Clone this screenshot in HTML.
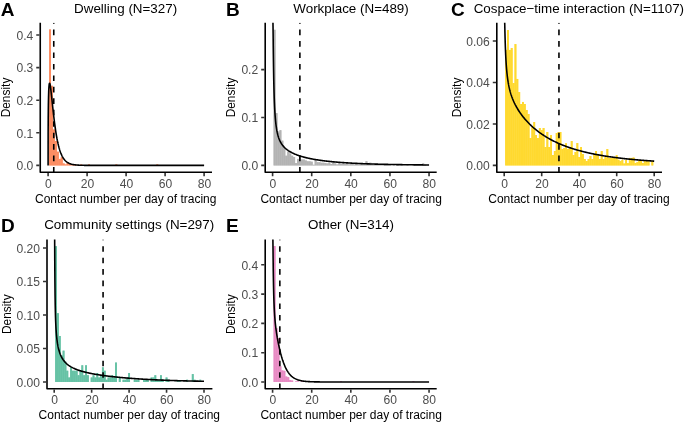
<!DOCTYPE html>
<html lang="en"><head><meta charset="utf-8"><title>Contact number per day of tracing</title>
<style>html,body{margin:0;padding:0;background:#fff}svg{display:block}</style></head>
<body>
<svg width="685" height="423" viewBox="0 0 685 423" font-family='"Liberation Sans", Arial, Helvetica, sans-serif'>
<rect width="685" height="423" fill="#fff"/>
<g id="panelA">
<clipPath id="cA"><rect x="40.25" y="22.8" width="171.75" height="149.79999999999998"/></clipPath>
<g clip-path="url(#cA)">
<path d="M49.08 165.4V29.46h1.95V165.4zM51.02 165.4V85.86h1.95V165.4zM52.98 165.4V129.54h1.95V165.4zM54.93 165.4V140.95h1.95V165.4zM56.88 165.4V151.71h1.95V165.4zM58.83 165.4V158.88h1.95V165.4zM60.77 165.4V157.25h1.95V165.4zM62.73 165.4V163.44h1.95V165.4zM64.67 165.4V164.42h1.95V165.4zM66.62 165.4V162.47h1.95V165.4zM68.58 165.4V163.44h1.95V165.4zM70.53 165.4V164.42h1.95V165.4zM72.47 165.4V164.42h1.95V165.4zM74.42 165.4V164.42h1.95V165.4zM80.28 165.4V164.42h1.95V165.4zM88.08 165.4V164.42h1.95V165.4zM115.38 165.4V164.42h1.95V165.4zM156.32 165.4V164.42h1.95V165.4z" fill="#FC8D62" fill-opacity="0.75"/>
<g fill="#FC8D62">
<rect x="49.08" y="29.46" width="1.95" height="135.94"/>
<rect x="51.02" y="85.86" width="1.95" height="79.54"/>
<rect x="52.98" y="129.54" width="1.95" height="35.86"/>
<rect x="54.93" y="140.95" width="1.95" height="24.45"/>
<rect x="56.88" y="151.71" width="1.95" height="13.69"/>
<rect x="58.83" y="158.88" width="1.95" height="6.52"/>
<rect x="60.77" y="157.25" width="1.95" height="8.15"/>
<rect x="62.73" y="163.44" width="1.95" height="1.96"/>
<rect x="64.67" y="164.42" width="1.95" height="0.98"/>
<rect x="66.62" y="162.47" width="1.95" height="2.93"/>
<rect x="68.58" y="163.44" width="1.95" height="1.96"/>
<rect x="70.53" y="164.42" width="1.95" height="0.98"/>
<rect x="72.47" y="164.42" width="1.95" height="0.98"/>
<rect x="74.42" y="164.42" width="1.95" height="0.98"/>
<rect x="80.28" y="164.42" width="1.95" height="0.98"/>
<rect x="88.08" y="164.42" width="1.95" height="0.98"/>
<rect x="115.38" y="164.42" width="1.95" height="0.98"/>
<rect x="156.32" y="164.42" width="1.95" height="0.98"/>
</g>
<path d="M48.1 165.4 L48.14 133.09 L48.22 118.8 L48.3 110.7 L48.37 104.98 L48.45 100.63 L48.53 97.18 L48.61 94.4 L48.69 92.11 L48.76 90.22 L48.84 88.66 L48.92 87.38 L49 86.32 L49.08 85.46 L49.15 84.78 L49.23 84.24 L49.31 83.84 L49.39 83.56 L49.47 83.38 L49.54 83.29 L49.62 83.29 L49.7 83.36 L49.78 83.51 L49.86 83.71 L49.93 83.97 L50.01 84.28 L50.09 84.63 L50.17 85.03 L50.25 85.47 L50.32 85.94 L50.4 86.44 L50.48 86.97 L50.56 87.52 L50.63 88.1 L50.71 88.7 L50.79 89.32 L50.87 89.96 L50.95 90.61 L51.02 91.28 L51.1 91.95 L51.18 92.64 L51.26 93.34 L51.34 94.05 L51.41 94.76 L51.49 95.48 L51.57 96.21 L51.65 96.94 L51.73 97.68 L51.8 98.41 L51.88 99.15 L51.96 99.9 L52.04 100.64 L52.12 101.38 L52.2 102.12 L52.27 102.87 L52.35 103.61 L52.43 104.35 L52.51 105.08 L52.59 105.82 L52.66 106.55 L52.74 107.28 L52.82 108.01 L52.9 108.73 L52.98 109.45 L53.05 110.16 L53.13 110.87 L53.21 111.58 L53.29 112.28 L53.37 112.97 L53.44 113.66 L53.52 114.35 L53.6 115.03 L53.68 115.7 L53.76 116.37 L53.83 117.03 L53.91 117.69 L53.99 118.34 L54.07 118.98 L54.15 119.62 L54.22 120.25 L54.3 120.88 L54.38 121.5 L54.46 122.11 L54.53 122.72 L54.61 123.32 L54.69 123.92 L54.77 124.51 L54.85 125.09 L54.92 125.66 L55 126.23 L55.08 126.79 L55.16 127.35 L55.24 127.9 L55.31 128.44 L55.39 128.98 L55.47 129.51 L55.55 130.04 L55.63 130.55 L55.7 131.06 L55.78 131.57 L55.86 132.07 L55.94 132.56 L56.02 133.05 L56.09 133.53 L56.17 134 L56.25 134.47 L56.33 134.94 L56.41 135.39 L56.48 135.84 L56.56 136.29 L56.64 136.73 L56.72 137.16 L56.8 137.59 L56.88 138.01 L56.95 138.42 L57.03 138.83 L57.11 139.24 L57.19 139.64 L57.27 140.03 L57.34 140.42 L57.42 140.8 L57.5 141.18 L57.58 141.55 L57.66 141.92 L57.73 142.28 L57.81 142.64 L57.89 142.99 L57.97 143.34 L58.05 143.68 L58.12 144.02 L58.2 144.35 L58.28 144.68 L58.36 145.01 L58.44 145.32 L58.51 145.64 L58.59 145.95 L58.67 146.25 L58.75 146.55 L58.83 146.85 L58.9 147.14 L58.98 147.43 L59.06 147.71 L59.14 147.99 L59.21 148.27 L59.29 148.54 L59.37 148.81 L59.45 149.07 L59.53 149.33 L59.6 149.58 L59.68 149.84 L59.76 150.08 L59.8 150.21 L60.29 151.66 L60.77 152.98 L61.26 154.19 L61.75 155.28 L62.24 156.26 L62.73 157.16 L63.21 157.97 L63.7 158.7 L64.19 159.37 L64.67 159.97 L65.16 160.51 L65.65 160.99 L66.14 161.44 L66.62 161.83 L67.11 162.19 L67.6 162.51 L68.09 162.81 L68.58 163.07 L69.06 163.3 L69.55 163.52 L70.04 163.71 L70.53 163.88 L71.01 164.03 L71.5 164.17 L71.99 164.3 L72.47 164.41 L72.96 164.51 L73.45 164.6 L73.94 164.69 L74.42 164.76 L74.91 164.83 L75.4 164.88 L75.89 164.94 L76.38 164.99 L76.86 165.03 L77.35 165.07 L77.84 165.1 L78.33 165.13 L78.81 165.16 L79.3 165.18 L79.79 165.21 L80.28 165.23 L80.76 165.25 L81.25 165.26 L81.74 165.28 L82.22 165.29 L82.71 165.3 L83.2 165.31 L83.69 165.32 L84.17 165.33 L84.66 165.34 L85.15 165.34 L85.64 165.35 L86.12 165.35 L86.61 165.36 L87.1 165.36 L87.59 165.37 L88.08 165.37 L88.56 165.37 L89.05 165.38 L89.54 165.38 L90.03 165.38 L90.51 165.38 L91 165.38 L91.49 165.39 L91.97 165.39 L92.46 165.39 L92.95 165.39 L93.44 165.39 L93.92 165.39 L94.41 165.39 L94.9 165.39 L95.39 165.39 L95.88 165.39 L96.36 165.4 L96.85 165.4 L97.34 165.4 L97.83 165.4 L98.31 165.4 L98.8 165.4 L99.29 165.4 L99.78 165.4 L100.26 165.4 L100.75 165.4 L101.24 165.4 L101.72 165.4 L102.21 165.4 L102.7 165.4 L103.19 165.4 L103.67 165.4 L104.16 165.4 L104.65 165.4 L105.14 165.4 L105.62 165.4 L106.11 165.4 L106.6 165.4 L107.09 165.4 L107.58 165.4 L108.06 165.4 L108.55 165.4 L109.04 165.4 L109.53 165.4 L110.01 165.4 L110.5 165.4 L110.99 165.4 L111.47 165.4 L111.96 165.4 L112.45 165.4 L112.94 165.4 L113.43 165.4 L113.91 165.4 L114.4 165.4 L114.89 165.4 L115.38 165.4 L115.86 165.4 L116.35 165.4 L116.84 165.4 L117.32 165.4 L117.81 165.4 L118.3 165.4 L118.79 165.4 L119.28 165.4 L119.76 165.4 L120.25 165.4 L120.74 165.4 L121.22 165.4 L121.71 165.4 L122.2 165.4 L122.69 165.4 L123.18 165.4 L123.66 165.4 L124.15 165.4 L124.64 165.4 L125.12 165.4 L125.61 165.4 L126.1 165.4 L126.59 165.4 L127.07 165.4 L127.56 165.4 L128.05 165.4 L128.54 165.4 L129.03 165.4 L129.51 165.4 L130 165.4 L130.49 165.4 L130.97 165.4 L131.46 165.4 L131.95 165.4 L132.44 165.4 L132.93 165.4 L133.41 165.4 L133.9 165.4 L134.39 165.4 L134.88 165.4 L135.36 165.4 L135.85 165.4 L136.34 165.4 L136.82 165.4 L137.31 165.4 L137.8 165.4 L138.29 165.4 L138.78 165.4 L139.26 165.4 L139.75 165.4 L140.24 165.4 L140.72 165.4 L141.21 165.4 L141.7 165.4 L142.19 165.4 L142.68 165.4 L143.16 165.4 L143.65 165.4 L144.14 165.4 L144.62 165.4 L145.11 165.4 L145.6 165.4 L146.09 165.4 L146.57 165.4 L147.06 165.4 L147.55 165.4 L148.04 165.4 L148.53 165.4 L149.01 165.4 L149.5 165.4 L149.99 165.4 L150.47 165.4 L150.96 165.4 L151.45 165.4 L151.94 165.4 L152.43 165.4 L152.91 165.4 L153.4 165.4 L153.89 165.4 L154.38 165.4 L154.86 165.4 L155.35 165.4 L155.84 165.4 L156.32 165.4 L156.81 165.4 L157.3 165.4 L157.79 165.4 L158.28 165.4 L158.76 165.4 L159.25 165.4 L159.74 165.4 L160.22 165.4 L160.71 165.4 L161.2 165.4 L161.69 165.4 L162.18 165.4 L162.66 165.4 L163.15 165.4 L163.64 165.4 L164.12 165.4 L164.61 165.4 L165.1 165.4 L165.59 165.4 L166.07 165.4 L166.56 165.4 L167.05 165.4 L167.54 165.4 L168.03 165.4 L168.51 165.4 L169 165.4 L169.49 165.4 L169.97 165.4 L170.46 165.4 L170.95 165.4 L171.44 165.4 L171.93 165.4 L172.41 165.4 L172.9 165.4 L173.39 165.4 L173.88 165.4 L174.36 165.4 L174.85 165.4 L175.34 165.4 L175.82 165.4 L176.31 165.4 L176.8 165.4 L177.29 165.4 L177.77 165.4 L178.26 165.4 L178.75 165.4 L179.24 165.4 L179.72 165.4 L180.21 165.4 L180.7 165.4 L181.19 165.4 L181.67 165.4 L182.16 165.4 L182.65 165.4 L183.14 165.4 L183.62 165.4 L184.11 165.4 L184.6 165.4 L185.09 165.4 L185.57 165.4 L186.06 165.4 L186.55 165.4 L187.04 165.4 L187.52 165.4 L188.01 165.4 L188.5 165.4 L188.99 165.4 L189.47 165.4 L189.96 165.4 L190.45 165.4 L190.94 165.4 L191.42 165.4 L191.91 165.4 L192.4 165.4 L192.89 165.4 L193.38 165.4 L193.86 165.4 L194.35 165.4 L194.84 165.4 L195.32 165.4 L195.81 165.4 L196.3 165.4 L196.79 165.4 L197.27 165.4 L197.76 165.4 L198.25 165.4 L198.74 165.4 L199.22 165.4 L199.71 165.4 L200.2 165.4 L200.69 165.4 L201.17 165.4 L201.66 165.4 L202.15 165.4 L202.64 165.4 L203.12 165.4 L203.61 165.4 L204.1 165.4" fill="none" stroke="#000" stroke-width="1.6" stroke-linejoin="round"/>
<line x1="53.76" y1="172.6" x2="53.76" y2="22.8" stroke="#000" stroke-width="1.6" stroke-dasharray="5.6 5.85"/>
</g>
<path d="M40.25 22.8V172.2H212.0" fill="none" stroke="#000" stroke-width="1.6" stroke-linejoin="round"/>
<path d="M39.55 165.4h-3.3M39.55 132.8h-3.3M39.55 100.2h-3.3M39.55 67.6h-3.3M39.55 35h-3.3M48.1 172.9v3.3M87.1 172.9v3.3M126.1 172.9v3.3M165.1 172.9v3.3M204.1 172.9v3.3" stroke="#333" stroke-width="1.6" fill="none"/>
<g font-size="12.1" fill="#4D4D4D">
<text x="33.25" y="170.1" text-anchor="end">0.0</text>
<text x="33.25" y="137.5" text-anchor="end">0.1</text>
<text x="33.25" y="104.9" text-anchor="end">0.2</text>
<text x="33.25" y="72.3" text-anchor="end">0.3</text>
<text x="33.25" y="39.7" text-anchor="end">0.4</text>
<text x="48.4" y="187.5" text-anchor="middle">0</text>
<text x="87.4" y="187.5" text-anchor="middle">20</text>
<text x="126.4" y="187.5" text-anchor="middle">40</text>
<text x="165.4" y="187.5" text-anchor="middle">60</text>
<text x="204.4" y="187.5" text-anchor="middle">80</text>
</g>
<text x="125.72" y="203" font-size="12" text-anchor="middle" fill="#000">Contact number per day of tracing</text>
<text transform="translate(9.5 97.5) rotate(-90)" font-size="11.9" text-anchor="middle" fill="#000">Density</text>
<text x="125.62" y="12.7" font-size="13.4" text-anchor="middle" fill="#000">Dwelling (N=327)</text>
<text x="0.75" y="15.6" font-size="19" font-weight="bold" fill="#000">A</text>
</g>
<g id="panelB">
<clipPath id="cB"><rect x="265.2" y="22.8" width="171.5" height="149.79999999999998"/></clipPath>
<g clip-path="url(#cB)">
<path d="M273.58 165.4V29.84h1.96V165.4zM275.53 165.4V113.14h1.96V165.4zM277.49 165.4V131.53h1.96V165.4zM279.44 165.4V130.13h1.96V165.4zM281.4 165.4V140.64h1.96V165.4zM283.36 165.4V147.3h1.96V165.4zM285.31 165.4V155.71h1.96V165.4zM287.27 165.4V151.68h1.96V165.4zM289.22 165.4V153.43h1.96V165.4zM291.18 165.4V155.71h1.96V165.4zM293.13 165.4V156.94h1.96V165.4zM295.09 165.4V163.07h1.96V165.4zM297.05 165.4V158.89h1.96V165.4zM299 165.4V157.26h1.96V165.4zM300.96 165.4V159.57h1.96V165.4zM302.91 165.4V159.57h1.96V165.4zM304.87 165.4V160.44h1.96V165.4zM306.82 165.4V161.32h1.96V165.4zM308.78 165.4V161.32h1.96V165.4zM310.73 165.4V161.67h1.96V165.4zM312.69 165.4V164.82h1.96V165.4zM314.65 165.4V158.89h1.96V165.4zM316.6 165.4V162.19h1.96V165.4zM318.56 165.4V162.19h1.96V165.4zM320.51 165.4V162.72h1.96V165.4zM322.47 165.4V162.72h1.96V165.4zM324.42 165.4V163.07h1.96V165.4zM326.38 165.4V163.42h1.96V165.4zM328.33 165.4V162.72h1.96V165.4zM330.29 165.4V163.95h1.96V165.4zM332.25 165.4V162.19h1.96V165.4zM334.2 165.4V163.42h1.96V165.4zM336.16 165.4V164.47h1.96V165.4zM338.11 165.4V163.07h1.96V165.4zM340.07 165.4V163.95h1.96V165.4zM342.02 165.4V163.42h1.96V165.4zM343.98 165.4V164.12h1.96V165.4zM345.94 165.4V163.77h1.96V165.4zM347.89 165.4V164.47h1.96V165.4zM349.85 165.4V164.12h1.96V165.4zM351.8 165.4V163.77h1.96V165.4zM353.76 165.4V164.47h1.96V165.4zM355.71 165.4V164.3h1.96V165.4zM357.67 165.4V164.65h1.96V165.4zM359.62 165.4V164.12h1.96V165.4zM361.58 165.4V164.47h1.96V165.4zM363.54 165.4V164.3h1.96V165.4zM365.49 165.4V161.32h1.96V165.4zM367.45 165.4V164.47h1.96V165.4zM369.4 165.4V162.72h1.96V165.4zM371.36 165.4V164.47h1.96V165.4zM373.31 165.4V164.82h1.96V165.4zM375.27 165.4V164.47h1.96V165.4zM377.22 165.4V164.82h1.96V165.4zM379.18 165.4V164.65h1.96V165.4zM381.14 165.4V164.82h1.96V165.4zM383.09 165.4V164.47h1.96V165.4zM385.05 165.4V165h1.96V165.4zM387 165.4V164.82h1.96V165.4zM388.96 165.4V165h1.96V165.4zM392.87 165.4V164.82h1.96V165.4zM396.78 165.4V165h1.96V165.4zM400.69 165.4V164.82h1.96V165.4zM406.56 165.4V165h1.96V165.4zM412.43 165.4V164.82h1.96V165.4zM422.2 165.4V163.42h1.96V165.4zM424.16 165.4V164.82h1.96V165.4z" fill="#B3B3B3" fill-opacity="0.75"/>
<g fill="#B3B3B3">
<rect x="273.58" y="29.84" width="1.96" height="135.56"/>
<rect x="275.53" y="113.14" width="1.96" height="52.26"/>
<rect x="277.49" y="131.53" width="1.96" height="33.87"/>
<rect x="279.44" y="130.13" width="1.96" height="35.27"/>
<rect x="281.4" y="140.64" width="1.96" height="24.76"/>
<rect x="283.36" y="147.3" width="1.96" height="18.1"/>
<rect x="285.31" y="155.71" width="1.96" height="9.69"/>
<rect x="287.27" y="151.68" width="1.96" height="13.72"/>
<rect x="289.22" y="153.43" width="1.96" height="11.97"/>
<rect x="291.18" y="155.71" width="1.96" height="9.69"/>
<rect x="293.13" y="156.94" width="1.96" height="8.46"/>
<rect x="295.09" y="163.07" width="1.96" height="2.33"/>
<rect x="297.05" y="158.89" width="1.96" height="6.51"/>
<rect x="299" y="157.26" width="1.96" height="8.14"/>
<rect x="300.96" y="159.57" width="1.96" height="5.83"/>
<rect x="302.91" y="159.57" width="1.96" height="5.83"/>
<rect x="304.87" y="160.44" width="1.96" height="4.96"/>
<rect x="306.82" y="161.32" width="1.96" height="4.08"/>
<rect x="308.78" y="161.32" width="1.96" height="4.08"/>
<rect x="310.73" y="161.67" width="1.96" height="3.73"/>
<rect x="312.69" y="164.82" width="1.96" height="0.58"/>
<rect x="314.65" y="158.89" width="1.96" height="6.51"/>
<rect x="316.6" y="162.19" width="1.96" height="3.21"/>
<rect x="318.56" y="162.19" width="1.96" height="3.21"/>
<rect x="320.51" y="162.72" width="1.96" height="2.68"/>
<rect x="322.47" y="162.72" width="1.96" height="2.68"/>
<rect x="324.42" y="163.07" width="1.96" height="2.33"/>
<rect x="326.38" y="163.42" width="1.96" height="1.98"/>
<rect x="328.33" y="162.72" width="1.96" height="2.68"/>
<rect x="330.29" y="163.95" width="1.96" height="1.45"/>
<rect x="332.25" y="162.19" width="1.96" height="3.21"/>
<rect x="334.2" y="163.42" width="1.96" height="1.98"/>
<rect x="336.16" y="164.47" width="1.96" height="0.93"/>
<rect x="338.11" y="163.07" width="1.96" height="2.33"/>
<rect x="340.07" y="163.95" width="1.96" height="1.45"/>
<rect x="342.02" y="163.42" width="1.96" height="1.98"/>
<rect x="343.98" y="164.12" width="1.96" height="1.28"/>
<rect x="345.94" y="163.77" width="1.96" height="1.63"/>
<rect x="347.89" y="164.47" width="1.96" height="0.93"/>
<rect x="349.85" y="164.12" width="1.96" height="1.28"/>
<rect x="351.8" y="163.77" width="1.96" height="1.63"/>
<rect x="353.76" y="164.47" width="1.96" height="0.93"/>
<rect x="355.71" y="164.3" width="1.96" height="1.1"/>
<rect x="357.67" y="164.65" width="1.96" height="0.75"/>
<rect x="359.62" y="164.12" width="1.96" height="1.28"/>
<rect x="361.58" y="164.47" width="1.96" height="0.93"/>
<rect x="363.54" y="164.3" width="1.96" height="1.1"/>
<rect x="365.49" y="161.32" width="1.96" height="4.08"/>
<rect x="367.45" y="164.47" width="1.96" height="0.93"/>
<rect x="369.4" y="162.72" width="1.96" height="2.68"/>
<rect x="371.36" y="164.47" width="1.96" height="0.93"/>
<rect x="373.31" y="164.82" width="1.96" height="0.58"/>
<rect x="375.27" y="164.47" width="1.96" height="0.93"/>
<rect x="377.22" y="164.82" width="1.96" height="0.58"/>
<rect x="379.18" y="164.65" width="1.96" height="0.75"/>
<rect x="381.14" y="164.82" width="1.96" height="0.58"/>
<rect x="383.09" y="164.47" width="1.96" height="0.93"/>
<rect x="385.05" y="165" width="1.96" height="0.4"/>
<rect x="387" y="164.82" width="1.96" height="0.58"/>
<rect x="388.96" y="165" width="1.96" height="0.4"/>
<rect x="392.87" y="164.82" width="1.96" height="0.58"/>
<rect x="396.78" y="165" width="1.96" height="0.4"/>
<rect x="400.69" y="164.82" width="1.96" height="0.58"/>
<rect x="406.56" y="165" width="1.96" height="0.4"/>
<rect x="412.43" y="164.82" width="1.96" height="0.58"/>
<rect x="422.2" y="163.42" width="1.96" height="1.98"/>
<rect x="424.16" y="164.82" width="1.96" height="0.58"/>
</g>
<path d="M272.8 2.85 L272.87 18.46 L272.95 21.65 L273.03 26.48 L273.11 33.33 L273.19 40.61 L273.26 47.65 L273.34 54.22 L273.42 60.24 L273.5 65.7 L273.58 70.65 L273.66 75.13 L273.73 79.2 L273.81 82.9 L273.89 86.27 L273.97 89.35 L274.05 92.18 L274.13 94.77 L274.2 97.17 L274.28 99.38 L274.36 101.44 L274.44 103.35 L274.52 105.12 L274.59 106.78 L274.67 108.34 L274.75 109.79 L274.83 111.16 L274.91 112.45 L274.99 113.66 L275.06 114.81 L275.14 115.9 L275.22 116.93 L275.3 117.9 L275.38 118.83 L275.46 119.71 L275.53 120.55 L275.61 121.36 L275.69 122.12 L275.77 122.86 L275.85 123.56 L275.92 124.23 L276 124.87 L276.08 125.49 L276.16 126.09 L276.24 126.66 L276.32 127.21 L276.39 127.74 L276.47 128.25 L276.55 128.75 L276.63 129.22 L276.71 129.68 L276.78 130.13 L276.86 130.56 L276.94 130.98 L277.02 131.38 L277.1 131.77 L277.18 132.15 L277.25 132.52 L277.33 132.88 L277.41 133.22 L277.49 133.56 L277.57 133.89 L277.65 134.21 L277.72 134.52 L277.8 134.82 L277.88 135.12 L277.96 135.41 L278.04 135.69 L278.11 135.96 L278.19 136.23 L278.27 136.49 L278.35 136.74 L278.43 136.99 L278.51 137.24 L278.58 137.47 L278.66 137.71 L278.74 137.93 L278.82 138.16 L278.9 138.37 L278.98 138.59 L279.05 138.8 L279.13 139 L279.21 139.2 L279.29 139.4 L279.37 139.59 L279.44 139.78 L279.52 139.97 L279.6 140.15 L279.68 140.33 L279.76 140.5 L279.84 140.68 L279.91 140.84 L279.99 141.01 L280.07 141.17 L280.15 141.34 L280.23 141.49 L280.31 141.65 L280.38 141.8 L280.46 141.95 L280.54 142.1 L280.62 142.25 L280.7 142.39 L280.77 142.53 L280.85 142.67 L280.93 142.81 L281.01 142.94 L281.09 143.07 L281.17 143.2 L281.24 143.33 L281.32 143.46 L281.4 143.59 L281.48 143.71 L281.56 143.83 L281.63 143.95 L281.71 144.07 L281.79 144.19 L281.87 144.3 L281.95 144.42 L282.03 144.53 L282.1 144.64 L282.18 144.75 L282.26 144.86 L282.34 144.97 L282.42 145.07 L282.5 145.18 L282.57 145.28 L282.65 145.38 L282.73 145.48 L282.81 145.58 L282.89 145.68 L282.96 145.78 L283.04 145.87 L283.12 145.97 L283.2 146.06 L283.28 146.15 L283.36 146.24 L283.43 146.34 L283.51 146.43 L283.59 146.51 L283.67 146.6 L283.75 146.69 L283.83 146.78 L283.9 146.86 L283.98 146.94 L284.06 147.03 L284.14 147.11 L284.22 147.19 L284.29 147.27 L284.33 147.31 L284.82 147.8 L285.31 148.26 L285.8 148.69 L286.29 149.1 L286.78 149.49 L287.27 149.87 L287.76 150.22 L288.24 150.56 L288.73 150.89 L289.22 151.2 L289.71 151.5 L290.2 151.79 L290.69 152.07 L291.18 152.33 L291.67 152.59 L292.16 152.84 L292.64 153.08 L293.13 153.32 L293.62 153.54 L294.11 153.76 L294.6 153.98 L295.09 154.18 L295.58 154.38 L296.07 154.58 L296.56 154.77 L297.05 154.95 L297.53 155.13 L298.02 155.31 L298.51 155.48 L299 155.65 L299.49 155.81 L299.98 155.97 L300.47 156.12 L300.96 156.27 L301.45 156.42 L301.93 156.56 L302.42 156.71 L302.91 156.84 L303.4 156.98 L303.89 157.11 L304.38 157.24 L304.87 157.37 L305.36 157.49 L305.85 157.61 L306.33 157.73 L306.82 157.85 L307.31 157.96 L307.8 158.07 L308.29 158.18 L308.78 158.29 L309.27 158.39 L309.76 158.5 L310.25 158.6 L310.73 158.7 L311.22 158.79 L311.71 158.89 L312.2 158.98 L312.69 159.08 L313.18 159.17 L313.67 159.25 L314.16 159.34 L314.65 159.43 L315.13 159.51 L315.62 159.59 L316.11 159.68 L316.6 159.76 L317.09 159.83 L317.58 159.91 L318.07 159.99 L318.56 160.06 L319.05 160.13 L319.53 160.21 L320.02 160.28 L320.51 160.35 L321 160.41 L321.49 160.48 L321.98 160.55 L322.47 160.61 L322.96 160.68 L323.45 160.74 L323.93 160.8 L324.42 160.86 L324.91 160.92 L325.4 160.98 L325.89 161.04 L326.38 161.1 L326.87 161.15 L327.36 161.21 L327.85 161.26 L328.33 161.32 L328.82 161.37 L329.31 161.42 L329.8 161.47 L330.29 161.52 L330.78 161.57 L331.27 161.62 L331.76 161.67 L332.25 161.72 L332.73 161.77 L333.22 161.81 L333.71 161.86 L334.2 161.9 L334.69 161.95 L335.18 161.99 L335.67 162.03 L336.16 162.07 L336.65 162.12 L337.13 162.16 L337.62 162.2 L338.11 162.24 L338.6 162.28 L339.09 162.31 L339.58 162.35 L340.07 162.39 L340.56 162.43 L341.05 162.46 L341.53 162.5 L342.02 162.54 L342.51 162.57 L343 162.6 L343.49 162.64 L343.98 162.67 L344.47 162.71 L344.96 162.74 L345.45 162.77 L345.94 162.8 L346.42 162.83 L346.91 162.86 L347.4 162.89 L347.89 162.92 L348.38 162.95 L348.87 162.98 L349.36 163.01 L349.85 163.04 L350.34 163.07 L350.82 163.09 L351.31 163.12 L351.8 163.15 L352.29 163.18 L352.78 163.2 L353.27 163.23 L353.76 163.25 L354.25 163.28 L354.74 163.3 L355.22 163.33 L355.71 163.35 L356.2 163.37 L356.69 163.4 L357.18 163.42 L357.67 163.44 L358.16 163.47 L358.65 163.49 L359.14 163.51 L359.62 163.53 L360.11 163.55 L360.6 163.57 L361.09 163.6 L361.58 163.62 L362.07 163.64 L362.56 163.66 L363.05 163.68 L363.54 163.7 L364.02 163.71 L364.51 163.73 L365 163.75 L365.49 163.77 L365.98 163.79 L366.47 163.81 L366.96 163.83 L367.45 163.84 L367.94 163.86 L368.42 163.88 L368.91 163.89 L369.4 163.91 L369.89 163.93 L370.38 163.94 L370.87 163.96 L371.36 163.98 L371.85 163.99 L372.34 164.01 L372.82 164.02 L373.31 164.04 L373.8 164.05 L374.29 164.07 L374.78 164.08 L375.27 164.1 L375.76 164.11 L376.25 164.13 L376.74 164.14 L377.22 164.15 L377.71 164.17 L378.2 164.18 L378.69 164.19 L379.18 164.21 L379.67 164.22 L380.16 164.23 L380.65 164.24 L381.14 164.26 L381.62 164.27 L382.11 164.28 L382.6 164.29 L383.09 164.3 L383.58 164.32 L384.07 164.33 L384.56 164.34 L385.05 164.35 L385.54 164.36 L386.02 164.37 L386.51 164.38 L387 164.39 L387.49 164.41 L387.98 164.42 L388.47 164.43 L388.96 164.44 L389.45 164.45 L389.94 164.46 L390.42 164.47 L390.91 164.48 L391.4 164.49 L391.89 164.5 L392.38 164.51 L392.87 164.51 L393.36 164.52 L393.85 164.53 L394.34 164.54 L394.83 164.55 L395.31 164.56 L395.8 164.57 L396.29 164.58 L396.78 164.59 L397.27 164.59 L397.76 164.6 L398.25 164.61 L398.74 164.62 L399.23 164.63 L399.71 164.63 L400.2 164.64 L400.69 164.65 L401.18 164.66 L401.67 164.67 L402.16 164.67 L402.65 164.68 L403.14 164.69 L403.63 164.69 L404.11 164.7 L404.6 164.71 L405.09 164.72 L405.58 164.72 L406.07 164.73 L406.56 164.74 L407.05 164.74 L407.54 164.75 L408.03 164.76 L408.51 164.76 L409 164.77 L409.49 164.78 L409.98 164.78 L410.47 164.79 L410.96 164.79 L411.45 164.8 L411.94 164.81 L412.43 164.81 L412.91 164.82 L413.4 164.82 L413.89 164.83 L414.38 164.84 L414.87 164.84 L415.36 164.85 L415.85 164.85 L416.34 164.86 L416.83 164.86 L417.31 164.87 L417.8 164.87 L418.29 164.88 L418.78 164.88 L419.27 164.89 L419.76 164.89 L420.25 164.9 L420.74 164.9 L421.23 164.91 L421.71 164.91 L422.2 164.92 L422.69 164.92 L423.18 164.93 L423.67 164.93 L424.16 164.94 L424.65 164.94 L425.14 164.95 L425.63 164.95 L426.11 164.95 L426.6 164.96 L427.09 164.96 L427.58 164.97 L428.07 164.97 L428.56 164.98 L429.05 164.98" fill="none" stroke="#000" stroke-width="1.6" stroke-linejoin="round"/>
<line x1="299.88" y1="172.6" x2="299.88" y2="22.8" stroke="#000" stroke-width="1.6" stroke-dasharray="5.6 5.85"/>
</g>
<path d="M265.2 22.8V172.2H436.7" fill="none" stroke="#000" stroke-width="1.6" stroke-linejoin="round"/>
<path d="M264.5 165.4h-3.3M264.5 117.5h-3.3M264.5 69.6h-3.3M272.6 172.9v3.3M311.71 172.9v3.3M350.82 172.9v3.3M389.94 172.9v3.3M429.05 172.9v3.3" stroke="#333" stroke-width="1.6" fill="none"/>
<g font-size="12.1" fill="#4D4D4D">
<text x="258.2" y="170.1" text-anchor="end">0.0</text>
<text x="258.2" y="122.2" text-anchor="end">0.1</text>
<text x="258.2" y="74.3" text-anchor="end">0.2</text>
<text x="272.9" y="187.5" text-anchor="middle">0</text>
<text x="312.01" y="187.5" text-anchor="middle">20</text>
<text x="351.12" y="187.5" text-anchor="middle">40</text>
<text x="390.24" y="187.5" text-anchor="middle">60</text>
<text x="429.35" y="187.5" text-anchor="middle">80</text>
</g>
<text x="351.15" y="203" font-size="12" text-anchor="middle" fill="#000">Contact number per day of tracing</text>
<text transform="translate(235 97.5) rotate(-90)" font-size="11.9" text-anchor="middle" fill="#000">Density</text>
<text x="351.05" y="12.7" font-size="13.4" text-anchor="middle" fill="#000">Workplace (N=489)</text>
<text x="226" y="15.6" font-size="19" font-weight="bold" fill="#000">B</text>
</g>
<g id="panelC">
<clipPath id="cC"><rect x="496.8" y="22.8" width="165.2" height="149.79999999999998"/></clipPath>
<g clip-path="url(#cC)">
<path d="M505.14 165.4V49.91h1.88V165.4zM507.01 165.4V30h1.88V165.4zM508.89 165.4V49.91h1.88V165.4zM510.76 165.4V48.04h1.88V165.4zM512.64 165.4V83.08h1.88V165.4zM514.51 165.4V44.1h1.88V165.4zM516.39 165.4V78.94h1.88V165.4zM518.26 165.4V92h1.88V165.4zM520.14 165.4V104h1.88V165.4zM522.01 165.4V101.95h1.88V165.4zM523.89 165.4V104h1.88V165.4zM525.76 165.4V110h1.88V165.4zM527.64 165.4V114h1.88V165.4zM529.51 165.4V138h1.88V165.4zM531.39 165.4V127h1.88V165.4zM533.26 165.4V122h1.88V165.4zM535.14 165.4V135h1.88V165.4zM537.01 165.4V138h1.88V165.4zM538.89 165.4V128h1.88V165.4zM540.76 165.4V130h1.88V165.4zM542.64 165.4V128h1.88V165.4zM544.51 165.4V147h1.88V165.4zM546.39 165.4V132h1.88V165.4zM548.26 165.4V147h1.88V165.4zM550.14 165.4V135h1.88V165.4zM552.01 165.4V155h1.88V165.4zM553.89 165.4V151h1.88V165.4zM555.76 165.4V133h1.88V165.4zM557.64 165.4V132h1.88V165.4zM559.51 165.4V132h1.88V165.4zM561.39 165.4V149h1.88V165.4zM563.26 165.4V147.98h1.88V165.4zM565.14 165.4V143.21h1.88V165.4zM567.01 165.4V149h1.88V165.4zM568.89 165.4V147.78h1.88V165.4zM570.76 165.4V141h1.88V165.4zM572.64 165.4V155h1.88V165.4zM574.51 165.4V152h1.88V165.4zM576.39 165.4V143h1.88V165.4zM578.26 165.4V157h1.88V165.4zM580.14 165.4V147h1.88V165.4zM582.01 165.4V154h1.88V165.4zM583.89 165.4V159h1.88V165.4zM585.76 165.4V161h1.88V165.4zM587.64 165.4V159h1.88V165.4zM589.51 165.4V156h1.88V165.4zM591.39 165.4V159h1.88V165.4zM593.26 165.4V154h1.88V165.4zM595.14 165.4V151h1.88V165.4zM597.01 165.4V154h1.88V165.4zM598.89 165.4V159h1.88V165.4zM600.76 165.4V151h1.88V165.4zM602.64 165.4V159h1.88V165.4zM604.51 165.4V157h1.88V165.4zM606.39 165.4V149h1.88V165.4zM608.26 165.4V158h1.88V165.4zM610.14 165.4V157.91h1.88V165.4zM612.01 165.4V157.91h1.88V165.4zM613.89 165.4V157.91h1.88V165.4zM615.76 165.4V155.29h1.88V165.4zM617.64 165.4V159.78h1.88V165.4zM619.51 165.4V161.09h1.88V165.4zM621.39 165.4V159.78h1.88V165.4zM623.26 165.4V163.53h1.88V165.4zM625.14 165.4V159.78h1.88V165.4zM627.01 165.4V163.15h1.88V165.4zM628.89 165.4V157.91h1.88V165.4zM630.76 165.4V157.91h1.88V165.4zM632.64 165.4V157.53h1.88V165.4zM634.51 165.4V162.96h1.88V165.4zM636.39 165.4V162.22h1.88V165.4zM638.26 165.4V160.16h1.88V165.4zM640.14 165.4V160.9h1.88V165.4zM642.01 165.4V162.96h1.88V165.4zM643.89 165.4V160.9h1.88V165.4zM645.76 165.4V161.28h1.88V165.4zM647.64 165.4V161.28h1.88V165.4zM651.39 165.4V160.9h1.88V165.4z" fill="#FFD92F" fill-opacity="0.75"/>
<g fill="#FFD92F">
<rect x="505.14" y="49.91" width="1.88" height="115.49"/>
<rect x="507.01" y="30" width="1.88" height="135.4"/>
<rect x="508.89" y="49.91" width="1.88" height="115.49"/>
<rect x="510.76" y="48.04" width="1.88" height="117.36"/>
<rect x="512.64" y="83.08" width="1.88" height="82.32"/>
<rect x="514.51" y="44.1" width="1.88" height="121.3"/>
<rect x="516.39" y="78.94" width="1.88" height="86.46"/>
<rect x="518.26" y="92" width="1.88" height="73.4"/>
<rect x="520.14" y="104" width="1.88" height="61.4"/>
<rect x="522.01" y="101.95" width="1.88" height="63.45"/>
<rect x="523.89" y="104" width="1.88" height="61.4"/>
<rect x="525.76" y="110" width="1.88" height="55.4"/>
<rect x="527.64" y="114" width="1.88" height="51.4"/>
<rect x="529.51" y="138" width="1.88" height="27.4"/>
<rect x="531.39" y="127" width="1.88" height="38.4"/>
<rect x="533.26" y="122" width="1.88" height="43.4"/>
<rect x="535.14" y="135" width="1.88" height="30.4"/>
<rect x="537.01" y="138" width="1.88" height="27.4"/>
<rect x="538.89" y="128" width="1.88" height="37.4"/>
<rect x="540.76" y="130" width="1.88" height="35.4"/>
<rect x="542.64" y="128" width="1.88" height="37.4"/>
<rect x="544.51" y="147" width="1.88" height="18.4"/>
<rect x="546.39" y="132" width="1.88" height="33.4"/>
<rect x="548.26" y="147" width="1.88" height="18.4"/>
<rect x="550.14" y="135" width="1.88" height="30.4"/>
<rect x="552.01" y="155" width="1.88" height="10.4"/>
<rect x="553.89" y="151" width="1.88" height="14.4"/>
<rect x="555.76" y="133" width="1.88" height="32.4"/>
<rect x="557.64" y="132" width="1.88" height="33.4"/>
<rect x="559.51" y="132" width="1.88" height="33.4"/>
<rect x="561.39" y="149" width="1.88" height="16.4"/>
<rect x="563.26" y="147.98" width="1.88" height="17.42"/>
<rect x="565.14" y="143.21" width="1.88" height="22.19"/>
<rect x="567.01" y="149" width="1.88" height="16.4"/>
<rect x="568.89" y="147.78" width="1.88" height="17.62"/>
<rect x="570.76" y="141" width="1.88" height="24.4"/>
<rect x="572.64" y="155" width="1.88" height="10.4"/>
<rect x="574.51" y="152" width="1.88" height="13.4"/>
<rect x="576.39" y="143" width="1.88" height="22.4"/>
<rect x="578.26" y="157" width="1.88" height="8.4"/>
<rect x="580.14" y="147" width="1.88" height="18.4"/>
<rect x="582.01" y="154" width="1.88" height="11.4"/>
<rect x="583.89" y="159" width="1.88" height="6.4"/>
<rect x="585.76" y="161" width="1.88" height="4.4"/>
<rect x="587.64" y="159" width="1.88" height="6.4"/>
<rect x="589.51" y="156" width="1.88" height="9.4"/>
<rect x="591.39" y="159" width="1.88" height="6.4"/>
<rect x="593.26" y="154" width="1.88" height="11.4"/>
<rect x="595.14" y="151" width="1.88" height="14.4"/>
<rect x="597.01" y="154" width="1.88" height="11.4"/>
<rect x="598.89" y="159" width="1.88" height="6.4"/>
<rect x="600.76" y="151" width="1.88" height="14.4"/>
<rect x="602.64" y="159" width="1.88" height="6.4"/>
<rect x="604.51" y="157" width="1.88" height="8.4"/>
<rect x="606.39" y="149" width="1.88" height="16.4"/>
<rect x="608.26" y="158" width="1.88" height="7.4"/>
<rect x="610.14" y="157.91" width="1.88" height="7.49"/>
<rect x="612.01" y="157.91" width="1.88" height="7.49"/>
<rect x="613.89" y="157.91" width="1.88" height="7.49"/>
<rect x="615.76" y="155.29" width="1.88" height="10.11"/>
<rect x="617.64" y="159.78" width="1.88" height="5.62"/>
<rect x="619.51" y="161.09" width="1.88" height="4.31"/>
<rect x="621.39" y="159.78" width="1.88" height="5.62"/>
<rect x="623.26" y="163.53" width="1.88" height="1.87"/>
<rect x="625.14" y="159.78" width="1.88" height="5.62"/>
<rect x="627.01" y="163.15" width="1.88" height="2.25"/>
<rect x="628.89" y="157.91" width="1.88" height="7.49"/>
<rect x="630.76" y="157.91" width="1.88" height="7.49"/>
<rect x="632.64" y="157.53" width="1.88" height="7.87"/>
<rect x="634.51" y="162.96" width="1.88" height="2.44"/>
<rect x="636.39" y="162.22" width="1.88" height="3.18"/>
<rect x="638.26" y="160.16" width="1.88" height="5.24"/>
<rect x="640.14" y="160.9" width="1.88" height="4.5"/>
<rect x="642.01" y="162.96" width="1.88" height="2.44"/>
<rect x="643.89" y="160.9" width="1.88" height="4.5"/>
<rect x="645.76" y="161.28" width="1.88" height="4.12"/>
<rect x="647.64" y="161.28" width="1.88" height="4.12"/>
<rect x="651.39" y="160.9" width="1.88" height="4.5"/>
</g>
<path d="M504.39 14.71 L504.46 17.61 L504.54 17.61 L504.61 19.04 L504.69 21.75 L504.76 24.92 L504.84 28.19 L504.91 31.38 L504.99 34.42 L505.06 37.28 L505.14 39.97 L505.21 42.47 L505.29 44.81 L505.36 46.99 L505.44 49.03 L505.51 50.94 L505.59 52.74 L505.66 54.42 L505.74 56 L505.81 57.49 L505.89 58.9 L505.96 60.24 L506.04 61.5 L506.11 62.71 L506.19 63.85 L506.26 64.94 L506.34 65.97 L506.41 66.97 L506.49 67.91 L506.56 68.82 L506.64 69.69 L506.71 70.53 L506.79 71.34 L506.86 72.11 L506.94 72.86 L507.01 73.57 L507.09 74.27 L507.16 74.94 L507.24 75.59 L507.31 76.22 L507.39 76.82 L507.46 77.41 L507.54 77.99 L507.61 78.54 L507.69 79.08 L507.76 79.61 L507.84 80.12 L507.91 80.61 L507.99 81.1 L508.06 81.57 L508.14 82.03 L508.21 82.48 L508.29 82.92 L508.36 83.34 L508.44 83.76 L508.51 84.17 L508.59 84.57 L508.66 84.96 L508.74 85.35 L508.81 85.72 L508.89 86.09 L508.96 86.45 L509.04 86.81 L509.11 87.16 L509.19 87.5 L509.26 87.83 L509.34 88.16 L509.41 88.49 L509.49 88.8 L509.56 89.12 L509.64 89.42 L509.71 89.73 L509.79 90.02 L509.86 90.32 L509.94 90.6 L510.01 90.89 L510.09 91.17 L510.16 91.45 L510.24 91.72 L510.31 91.99 L510.39 92.25 L510.46 92.51 L510.54 92.77 L510.61 93.02 L510.69 93.27 L510.76 93.52 L510.84 93.76 L510.91 94.01 L510.99 94.24 L511.06 94.48 L511.14 94.71 L511.21 94.94 L511.29 95.17 L511.36 95.4 L511.44 95.62 L511.51 95.84 L511.59 96.06 L511.66 96.27 L511.74 96.48 L511.81 96.7 L511.89 96.9 L511.96 97.11 L512.04 97.32 L512.11 97.52 L512.19 97.72 L512.26 97.92 L512.34 98.12 L512.41 98.31 L512.49 98.5 L512.56 98.7 L512.64 98.89 L512.71 99.07 L512.79 99.26 L512.86 99.45 L512.94 99.63 L513.01 99.81 L513.09 99.99 L513.16 100.17 L513.24 100.35 L513.31 100.53 L513.39 100.7 L513.46 100.87 L513.54 101.05 L513.61 101.22 L513.69 101.39 L513.76 101.55 L513.84 101.72 L513.91 101.89 L513.99 102.05 L514.06 102.22 L514.14 102.38 L514.21 102.54 L514.29 102.7 L514.36 102.86 L514.44 103.02 L514.51 103.17 L514.59 103.33 L514.66 103.48 L514.74 103.64 L514.81 103.79 L514.89 103.94 L514.96 104.09 L515.04 104.25 L515.11 104.39 L515.19 104.54 L515.26 104.69 L515.34 104.84 L515.41 104.98 L515.45 105.05 L515.92 105.94 L516.39 106.8 L516.86 107.63 L517.33 108.44 L517.79 109.22 L518.26 109.98 L518.73 110.72 L519.2 111.44 L519.67 112.15 L520.14 112.83 L520.61 113.5 L521.08 114.16 L521.54 114.8 L522.01 115.43 L522.48 116.04 L522.95 116.64 L523.42 117.23 L523.89 117.81 L524.36 118.38 L524.83 118.93 L525.29 119.48 L525.76 120.02 L526.23 120.54 L526.7 121.06 L527.17 121.57 L527.64 122.07 L528.11 122.56 L528.58 123.05 L529.04 123.52 L529.51 123.99 L529.98 124.45 L530.45 124.91 L530.92 125.36 L531.39 125.8 L531.86 126.23 L532.33 126.66 L532.79 127.08 L533.26 127.49 L533.73 127.9 L534.2 128.31 L534.67 128.7 L535.14 129.09 L535.61 129.48 L536.08 129.86 L536.54 130.24 L537.01 130.61 L537.48 130.97 L537.95 131.33 L538.42 131.68 L538.89 132.04 L539.36 132.38 L539.83 132.72 L540.29 133.06 L540.76 133.39 L541.23 133.72 L541.7 134.04 L542.17 134.36 L542.64 134.68 L543.11 134.99 L543.58 135.29 L544.04 135.6 L544.51 135.9 L544.98 136.19 L545.45 136.48 L545.92 136.77 L546.39 137.06 L546.86 137.34 L547.33 137.61 L547.79 137.89 L548.26 138.16 L548.73 138.43 L549.2 138.69 L549.67 138.95 L550.14 139.21 L550.61 139.46 L551.08 139.72 L551.54 139.96 L552.01 140.21 L552.48 140.45 L552.95 140.69 L553.42 140.93 L553.89 141.16 L554.36 141.4 L554.83 141.62 L555.29 141.85 L555.76 142.07 L556.23 142.29 L556.7 142.51 L557.17 142.73 L557.64 142.94 L558.11 143.15 L558.58 143.36 L559.04 143.57 L559.51 143.77 L559.98 143.97 L560.45 144.17 L560.92 144.37 L561.39 144.56 L561.86 144.76 L562.33 144.95 L562.79 145.14 L563.26 145.32 L563.73 145.51 L564.2 145.69 L564.67 145.87 L565.14 146.05 L565.61 146.22 L566.08 146.4 L566.54 146.57 L567.01 146.74 L567.48 146.91 L567.95 147.07 L568.42 147.24 L568.89 147.4 L569.36 147.56 L569.83 147.72 L570.29 147.88 L570.76 148.04 L571.23 148.19 L571.7 148.35 L572.17 148.5 L572.64 148.65 L573.11 148.79 L573.58 148.94 L574.04 149.09 L574.51 149.23 L574.98 149.37 L575.45 149.51 L575.92 149.65 L576.39 149.79 L576.86 149.93 L577.33 150.06 L577.79 150.19 L578.26 150.33 L578.73 150.46 L579.2 150.59 L579.67 150.71 L580.14 150.84 L580.61 150.97 L581.08 151.09 L581.54 151.21 L582.01 151.33 L582.48 151.45 L582.95 151.57 L583.42 151.69 L583.89 151.81 L584.36 151.92 L584.83 152.04 L585.29 152.15 L585.76 152.26 L586.23 152.37 L586.7 152.48 L587.17 152.59 L587.64 152.7 L588.11 152.81 L588.58 152.91 L589.04 153.02 L589.51 153.12 L589.98 153.22 L590.45 153.33 L590.92 153.43 L591.39 153.53 L591.86 153.62 L592.33 153.72 L592.79 153.82 L593.26 153.91 L593.73 154.01 L594.2 154.1 L594.67 154.2 L595.14 154.29 L595.61 154.38 L596.08 154.47 L596.54 154.56 L597.01 154.65 L597.48 154.73 L597.95 154.82 L598.42 154.91 L598.89 154.99 L599.36 155.08 L599.83 155.16 L600.29 155.24 L600.76 155.33 L601.23 155.41 L601.7 155.49 L602.17 155.57 L602.64 155.65 L603.11 155.72 L603.58 155.8 L604.04 155.88 L604.51 155.95 L604.98 156.03 L605.45 156.1 L605.92 156.18 L606.39 156.25 L606.86 156.32 L607.33 156.4 L607.79 156.47 L608.26 156.54 L608.73 156.61 L609.2 156.68 L609.67 156.75 L610.14 156.81 L610.61 156.88 L611.08 156.95 L611.54 157.01 L612.01 157.08 L612.48 157.14 L612.95 157.21 L613.42 157.27 L613.89 157.34 L614.36 157.4 L614.83 157.46 L615.29 157.52 L615.76 157.58 L616.23 157.64 L616.7 157.7 L617.17 157.76 L617.64 157.82 L618.11 157.88 L618.58 157.94 L619.04 157.99 L619.51 158.05 L619.98 158.11 L620.45 158.16 L620.92 158.22 L621.39 158.27 L621.86 158.33 L622.33 158.38 L622.79 158.43 L623.26 158.49 L623.73 158.54 L624.2 158.59 L624.67 158.64 L625.14 158.69 L625.61 158.75 L626.08 158.8 L626.54 158.84 L627.01 158.89 L627.48 158.94 L627.95 158.99 L628.42 159.04 L628.89 159.09 L629.36 159.13 L629.83 159.18 L630.29 159.23 L630.76 159.27 L631.23 159.32 L631.7 159.36 L632.17 159.41 L632.64 159.45 L633.11 159.5 L633.58 159.54 L634.04 159.58 L634.51 159.63 L634.98 159.67 L635.45 159.71 L635.92 159.75 L636.39 159.79 L636.86 159.84 L637.33 159.88 L637.79 159.92 L638.26 159.96 L638.73 160 L639.2 160.04 L639.67 160.08 L640.14 160.11 L640.61 160.15 L641.08 160.19 L641.54 160.23 L642.01 160.27 L642.48 160.3 L642.95 160.34 L643.42 160.38 L643.89 160.41 L644.36 160.45 L644.83 160.48 L645.29 160.52 L645.76 160.55 L646.23 160.59 L646.7 160.62 L647.17 160.66 L647.64 160.69 L648.11 160.73 L648.58 160.76 L649.04 160.79 L649.51 160.82 L649.98 160.86 L650.45 160.89 L650.92 160.92 L651.39 160.95 L651.86 160.99 L652.33 161.02 L652.79 161.05 L653.26 161.08 L653.73 161.11 L654.2 161.14" fill="none" stroke="#000" stroke-width="1.6" stroke-linejoin="round"/>
<line x1="558.95" y1="172.6" x2="558.95" y2="22.8" stroke="#000" stroke-width="1.6" stroke-dasharray="5.6 5.85"/>
</g>
<path d="M496.8 22.8V172.2H662.0" fill="none" stroke="#000" stroke-width="1.6" stroke-linejoin="round"/>
<path d="M496.1 165.4h-3.3M496.1 123.93h-3.3M496.1 82.46h-3.3M496.1 40.99h-3.3M504.2 172.9v3.3M541.7 172.9v3.3M579.2 172.9v3.3M616.7 172.9v3.3M654.2 172.9v3.3" stroke="#333" stroke-width="1.6" fill="none"/>
<g font-size="12.1" fill="#4D4D4D">
<text x="489.8" y="170.1" text-anchor="end">0.00</text>
<text x="489.8" y="128.63" text-anchor="end">0.02</text>
<text x="489.8" y="87.16" text-anchor="end">0.04</text>
<text x="489.8" y="45.69" text-anchor="end">0.06</text>
<text x="504.5" y="187.5" text-anchor="middle">0</text>
<text x="542" y="187.5" text-anchor="middle">20</text>
<text x="579.5" y="187.5" text-anchor="middle">40</text>
<text x="617" y="187.5" text-anchor="middle">60</text>
<text x="654.5" y="187.5" text-anchor="middle">80</text>
</g>
<text x="579" y="203" font-size="12" text-anchor="middle" fill="#000">Contact number per day of tracing</text>
<text transform="translate(460.5 97.5) rotate(-90)" font-size="11.9" text-anchor="middle" fill="#000">Density</text>
<text x="578.9" y="12.7" font-size="13.4" text-anchor="middle" fill="#000">Cospace−time interaction (N=1107)</text>
<text x="450.9" y="15.6" font-size="19" font-weight="bold" fill="#000">C</text>
</g>
<g id="panelD">
<clipPath id="cD"><rect x="47.0" y="239.6" width="165.4" height="149.6"/></clipPath>
<g clip-path="url(#cD)">
<path d="M55.14 382V246.19h1.87V382zM57.01 382V313.19h1.87V382zM58.88 382V335.98h1.87V382zM60.75 382V355.38h1.87V382zM62.63 382V350.64h1.87V382zM64.5 382V361.7h1.87V382zM66.37 382V370.72h1.87V382zM68.24 382V377.49h1.87V382zM70.12 382V367.34h1.87V382zM71.99 382V370.72h1.87V382zM73.86 382V370.72h1.87V382zM75.73 382V370.72h1.87V382zM77.61 382V375.23h1.87V382zM79.48 382V370.72h1.87V382zM81.35 382V365.31h1.87V382zM83.22 382V375.23h1.87V382zM85.1 382V365.31h1.87V382zM86.97 382V375.23h1.87V382zM90.71 382V377.49h1.87V382zM92.59 382V375.23h1.87V382zM94.46 382V377.49h1.87V382zM96.33 382V372.98h1.87V382zM98.2 382V377.49h1.87V382zM100.08 382V375.23h1.87V382zM101.95 382V367.34h1.87V382zM103.82 382V370.72h1.87V382zM105.69 382V379.74h1.87V382zM107.57 382V377.49h1.87V382zM109.44 382V377.49h1.87V382zM111.31 382V375.23h1.87V382zM113.18 382V377.49h1.87V382zM115.06 382V362.6h1.87V382zM118.8 382V377.49h1.87V382zM122.55 382V379.74h1.87V382zM124.42 382V379.74h1.87V382zM126.29 382V377.49h1.87V382zM128.16 382V372.98h1.87V382zM133.78 382V379.74h1.87V382zM135.65 382V379.74h1.87V382zM137.53 382V379.74h1.87V382zM143.14 382V379.74h1.87V382zM145.02 382V379.74h1.87V382zM146.89 382V379.74h1.87V382zM150.63 382V377.49h1.87V382zM152.51 382V377.49h1.87V382zM154.38 382V375.23h1.87V382zM156.25 382V379.74h1.87V382zM158.12 382V379.74h1.87V382zM160 382V375.23h1.87V382zM161.87 382V379.74h1.87V382zM165.61 382V377.49h1.87V382zM167.49 382V379.74h1.87V382zM176.85 382V380.65h1.87V382zM178.72 382V380.65h1.87V382zM186.21 382V379.74h1.87V382zM191.83 382V374.1h1.87V382zM193.7 382V379.74h1.87V382zM199.32 382V379.74h1.87V382z" fill="#66C2A5" fill-opacity="0.75"/>
<g fill="#66C2A5">
<rect x="55.14" y="246.19" width="1.87" height="135.81"/>
<rect x="57.01" y="313.19" width="1.87" height="68.81"/>
<rect x="58.88" y="335.98" width="1.87" height="46.02"/>
<rect x="60.75" y="355.38" width="1.87" height="26.62"/>
<rect x="62.63" y="350.64" width="1.87" height="31.36"/>
<rect x="64.5" y="361.7" width="1.87" height="20.3"/>
<rect x="66.37" y="370.72" width="1.87" height="11.28"/>
<rect x="68.24" y="377.49" width="1.87" height="4.51"/>
<rect x="70.12" y="367.34" width="1.87" height="14.66"/>
<rect x="71.99" y="370.72" width="1.87" height="11.28"/>
<rect x="73.86" y="370.72" width="1.87" height="11.28"/>
<rect x="75.73" y="370.72" width="1.87" height="11.28"/>
<rect x="77.61" y="375.23" width="1.87" height="6.77"/>
<rect x="79.48" y="370.72" width="1.87" height="11.28"/>
<rect x="81.35" y="365.31" width="1.87" height="16.69"/>
<rect x="83.22" y="375.23" width="1.87" height="6.77"/>
<rect x="85.1" y="365.31" width="1.87" height="16.69"/>
<rect x="86.97" y="375.23" width="1.87" height="6.77"/>
<rect x="90.71" y="377.49" width="1.87" height="4.51"/>
<rect x="92.59" y="375.23" width="1.87" height="6.77"/>
<rect x="94.46" y="377.49" width="1.87" height="4.51"/>
<rect x="96.33" y="372.98" width="1.87" height="9.02"/>
<rect x="98.2" y="377.49" width="1.87" height="4.51"/>
<rect x="100.08" y="375.23" width="1.87" height="6.77"/>
<rect x="101.95" y="367.34" width="1.87" height="14.66"/>
<rect x="103.82" y="370.72" width="1.87" height="11.28"/>
<rect x="105.69" y="379.74" width="1.87" height="2.26"/>
<rect x="107.57" y="377.49" width="1.87" height="4.51"/>
<rect x="109.44" y="377.49" width="1.87" height="4.51"/>
<rect x="111.31" y="375.23" width="1.87" height="6.77"/>
<rect x="113.18" y="377.49" width="1.87" height="4.51"/>
<rect x="115.06" y="362.6" width="1.87" height="19.4"/>
<rect x="118.8" y="377.49" width="1.87" height="4.51"/>
<rect x="122.55" y="379.74" width="1.87" height="2.26"/>
<rect x="124.42" y="379.74" width="1.87" height="2.26"/>
<rect x="126.29" y="377.49" width="1.87" height="4.51"/>
<rect x="128.16" y="372.98" width="1.87" height="9.02"/>
<rect x="133.78" y="379.74" width="1.87" height="2.26"/>
<rect x="135.65" y="379.74" width="1.87" height="2.26"/>
<rect x="137.53" y="379.74" width="1.87" height="2.26"/>
<rect x="143.14" y="379.74" width="1.87" height="2.26"/>
<rect x="145.02" y="379.74" width="1.87" height="2.26"/>
<rect x="146.89" y="379.74" width="1.87" height="2.26"/>
<rect x="150.63" y="377.49" width="1.87" height="4.51"/>
<rect x="152.51" y="377.49" width="1.87" height="4.51"/>
<rect x="154.38" y="375.23" width="1.87" height="6.77"/>
<rect x="156.25" y="379.74" width="1.87" height="2.26"/>
<rect x="158.12" y="379.74" width="1.87" height="2.26"/>
<rect x="160" y="375.23" width="1.87" height="6.77"/>
<rect x="161.87" y="379.74" width="1.87" height="2.26"/>
<rect x="165.61" y="377.49" width="1.87" height="4.51"/>
<rect x="167.49" y="379.74" width="1.87" height="2.26"/>
<rect x="176.85" y="380.65" width="1.87" height="1.35"/>
<rect x="178.72" y="380.65" width="1.87" height="1.35"/>
<rect x="186.21" y="379.74" width="1.87" height="2.26"/>
<rect x="191.83" y="374.1" width="1.87" height="7.9"/>
<rect x="193.7" y="379.74" width="1.87" height="2.26"/>
<rect x="199.32" y="379.74" width="1.87" height="2.26"/>
</g>
<path d="M54.61 225.16 L54.69 245.19 L54.76 260.36 L54.84 272.09 L54.91 281.35 L54.99 288.83 L55.06 294.98 L55.14 300.12 L55.21 304.48 L55.29 308.23 L55.36 311.48 L55.44 314.34 L55.51 316.87 L55.59 319.13 L55.66 321.16 L55.74 323 L55.81 324.68 L55.89 326.21 L55.96 327.62 L56.04 328.93 L56.11 330.14 L56.18 331.26 L56.26 332.32 L56.33 333.3 L56.41 334.23 L56.48 335.1 L56.56 335.93 L56.63 336.71 L56.71 337.45 L56.78 338.16 L56.86 338.83 L56.93 339.47 L57.01 340.08 L57.08 340.67 L57.16 341.23 L57.23 341.77 L57.31 342.29 L57.38 342.79 L57.46 343.28 L57.53 343.74 L57.61 344.19 L57.68 344.62 L57.76 345.04 L57.83 345.45 L57.91 345.84 L57.98 346.23 L58.06 346.6 L58.13 346.96 L58.21 347.31 L58.28 347.65 L58.36 347.98 L58.43 348.3 L58.51 348.61 L58.58 348.92 L58.66 349.22 L58.73 349.51 L58.81 349.79 L58.88 350.07 L58.96 350.34 L59.03 350.61 L59.11 350.86 L59.18 351.12 L59.26 351.37 L59.33 351.61 L59.41 351.85 L59.48 352.08 L59.56 352.31 L59.63 352.53 L59.71 352.75 L59.78 352.96 L59.85 353.17 L59.93 353.38 L60 353.58 L60.08 353.78 L60.15 353.98 L60.23 354.17 L60.3 354.36 L60.38 354.54 L60.45 354.73 L60.53 354.91 L60.6 355.08 L60.68 355.26 L60.75 355.43 L60.83 355.59 L60.9 355.76 L60.98 355.92 L61.05 356.08 L61.13 356.24 L61.2 356.39 L61.28 356.55 L61.35 356.7 L61.43 356.84 L61.5 356.99 L61.58 357.13 L61.65 357.27 L61.73 357.41 L61.8 357.55 L61.88 357.69 L61.95 357.82 L62.03 357.95 L62.1 358.08 L62.18 358.21 L62.25 358.34 L62.33 358.47 L62.4 358.59 L62.48 358.71 L62.55 358.83 L62.63 358.95 L62.7 359.07 L62.78 359.18 L62.85 359.3 L62.93 359.41 L63 359.52 L63.08 359.63 L63.15 359.74 L63.23 359.85 L63.3 359.96 L63.38 360.06 L63.45 360.16 L63.53 360.27 L63.6 360.37 L63.67 360.47 L63.75 360.57 L63.82 360.67 L63.9 360.76 L63.97 360.86 L64.05 360.95 L64.12 361.05 L64.2 361.14 L64.27 361.23 L64.35 361.32 L64.42 361.41 L64.5 361.5 L64.57 361.59 L64.65 361.68 L64.72 361.77 L64.8 361.85 L64.87 361.94 L64.95 362.02 L65.02 362.1 L65.1 362.18 L65.17 362.26 L65.25 362.35 L65.32 362.43 L65.4 362.5 L65.44 362.54 L65.9 363.02 L66.37 363.46 L66.84 363.89 L67.31 364.29 L67.78 364.67 L68.24 365.03 L68.71 365.38 L69.18 365.71 L69.65 366.02 L70.12 366.32 L70.58 366.61 L71.05 366.89 L71.52 367.16 L71.99 367.41 L72.46 367.66 L72.93 367.9 L73.39 368.12 L73.86 368.35 L74.33 368.56 L74.8 368.77 L75.27 368.97 L75.73 369.16 L76.2 369.35 L76.67 369.53 L77.14 369.71 L77.61 369.88 L78.07 370.05 L78.54 370.22 L79.01 370.38 L79.48 370.53 L79.95 370.68 L80.42 370.83 L80.88 370.97 L81.35 371.11 L81.82 371.25 L82.29 371.39 L82.76 371.52 L83.22 371.65 L83.69 371.77 L84.16 371.89 L84.63 372.02 L85.1 372.13 L85.56 372.25 L86.03 372.36 L86.5 372.47 L86.97 372.58 L87.44 372.69 L87.91 372.8 L88.37 372.9 L88.84 373 L89.31 373.1 L89.78 373.2 L90.25 373.3 L90.71 373.39 L91.18 373.49 L91.65 373.58 L92.12 373.67 L92.59 373.76 L93.05 373.84 L93.52 373.93 L93.99 374.02 L94.46 374.1 L94.93 374.18 L95.4 374.27 L95.86 374.35 L96.33 374.42 L96.8 374.5 L97.27 374.58 L97.74 374.66 L98.2 374.73 L98.67 374.81 L99.14 374.88 L99.61 374.95 L100.08 375.02 L100.54 375.09 L101.01 375.16 L101.48 375.23 L101.95 375.3 L102.42 375.37 L102.89 375.43 L103.35 375.5 L103.82 375.56 L104.29 375.63 L104.76 375.69 L105.23 375.75 L105.69 375.81 L106.16 375.87 L106.63 375.93 L107.1 375.99 L107.57 376.05 L108.03 376.11 L108.5 376.17 L108.97 376.23 L109.44 376.28 L109.91 376.34 L110.38 376.39 L110.84 376.45 L111.31 376.5 L111.78 376.56 L112.25 376.61 L112.72 376.66 L113.18 376.71 L113.65 376.77 L114.12 376.82 L114.59 376.87 L115.06 376.92 L115.52 376.97 L115.99 377.01 L116.46 377.06 L116.93 377.11 L117.4 377.16 L117.87 377.21 L118.33 377.25 L118.8 377.3 L119.27 377.34 L119.74 377.39 L120.21 377.43 L120.67 377.48 L121.14 377.52 L121.61 377.56 L122.08 377.61 L122.55 377.65 L123.01 377.69 L123.48 377.73 L123.95 377.78 L124.42 377.82 L124.89 377.86 L125.36 377.9 L125.82 377.94 L126.29 377.98 L126.76 378.02 L127.23 378.05 L127.7 378.09 L128.16 378.13 L128.63 378.17 L129.1 378.21 L129.57 378.24 L130.04 378.28 L130.5 378.32 L130.97 378.35 L131.44 378.39 L131.91 378.42 L132.38 378.46 L132.84 378.49 L133.31 378.53 L133.78 378.56 L134.25 378.59 L134.72 378.63 L135.19 378.66 L135.65 378.69 L136.12 378.72 L136.59 378.76 L137.06 378.79 L137.53 378.82 L137.99 378.85 L138.46 378.88 L138.93 378.91 L139.4 378.94 L139.87 378.97 L140.34 379 L140.8 379.03 L141.27 379.06 L141.74 379.09 L142.21 379.12 L142.68 379.15 L143.14 379.18 L143.61 379.2 L144.08 379.23 L144.55 379.26 L145.02 379.29 L145.48 379.31 L145.95 379.34 L146.42 379.37 L146.89 379.39 L147.36 379.42 L147.82 379.45 L148.29 379.47 L148.76 379.5 L149.23 379.52 L149.7 379.55 L150.17 379.57 L150.63 379.59 L151.1 379.62 L151.57 379.64 L152.04 379.67 L152.51 379.69 L152.97 379.71 L153.44 379.74 L153.91 379.76 L154.38 379.78 L154.85 379.8 L155.31 379.83 L155.78 379.85 L156.25 379.87 L156.72 379.89 L157.19 379.91 L157.66 379.93 L158.12 379.95 L158.59 379.98 L159.06 380 L159.53 380.02 L160 380.04 L160.46 380.06 L160.93 380.08 L161.4 380.1 L161.87 380.12 L162.34 380.13 L162.81 380.15 L163.27 380.17 L163.74 380.19 L164.21 380.21 L164.68 380.23 L165.15 380.25 L165.61 380.26 L166.08 380.28 L166.55 380.3 L167.02 380.32 L167.49 380.33 L167.95 380.35 L168.42 380.37 L168.89 380.39 L169.36 380.4 L169.83 380.42 L170.3 380.43 L170.76 380.45 L171.23 380.47 L171.7 380.48 L172.17 380.5 L172.64 380.51 L173.1 380.53 L173.57 380.55 L174.04 380.56 L174.51 380.58 L174.98 380.59 L175.44 380.6 L175.91 380.62 L176.38 380.63 L176.85 380.65 L177.32 380.66 L177.79 380.68 L178.25 380.69 L178.72 380.7 L179.19 380.72 L179.66 380.73 L180.13 380.74 L180.59 380.76 L181.06 380.77 L181.53 380.78 L182 380.8 L182.47 380.81 L182.93 380.82 L183.4 380.83 L183.87 380.85 L184.34 380.86 L184.81 380.87 L185.28 380.88 L185.74 380.89 L186.21 380.91 L186.68 380.92 L187.15 380.93 L187.62 380.94 L188.08 380.95 L188.55 380.96 L189.02 380.97 L189.49 380.99 L189.96 381 L190.42 381.01 L190.89 381.02 L191.36 381.03 L191.83 381.04 L192.3 381.05 L192.76 381.06 L193.23 381.07 L193.7 381.08 L194.17 381.09 L194.64 381.1 L195.11 381.11 L195.57 381.12 L196.04 381.13 L196.51 381.14 L196.98 381.15 L197.45 381.16 L197.91 381.16 L198.38 381.17 L198.85 381.18 L199.32 381.19 L199.79 381.2 L200.25 381.21 L200.72 381.22 L201.19 381.23 L201.66 381.23 L202.13 381.24 L202.6 381.25 L203.06 381.26 L203.53 381.27 L204 381.27" fill="none" stroke="#000" stroke-width="1.6" stroke-linejoin="round"/>
<line x1="103.07" y1="389.2" x2="103.07" y2="239.6" stroke="#000" stroke-width="1.6" stroke-dasharray="5.6 5.85"/>
</g>
<path d="M47.0 239.6V388.8H212.4" fill="none" stroke="#000" stroke-width="1.6" stroke-linejoin="round"/>
<path d="M46.3 382h-3.3M46.3 348.5h-3.3M46.3 315h-3.3M46.3 281.5h-3.3M46.3 248h-3.3M54.2 389.5v3.3M91.65 389.5v3.3M129.1 389.5v3.3M166.55 389.5v3.3M204 389.5v3.3" stroke="#333" stroke-width="1.6" fill="none"/>
<g font-size="12.1" fill="#4D4D4D">
<text x="40" y="386.7" text-anchor="end">0.00</text>
<text x="40" y="353.2" text-anchor="end">0.05</text>
<text x="40" y="319.7" text-anchor="end">0.10</text>
<text x="40" y="286.2" text-anchor="end">0.15</text>
<text x="40" y="252.7" text-anchor="end">0.20</text>
<text x="54.5" y="404.1" text-anchor="middle">0</text>
<text x="91.95" y="404.1" text-anchor="middle">20</text>
<text x="129.4" y="404.1" text-anchor="middle">40</text>
<text x="166.85" y="404.1" text-anchor="middle">60</text>
<text x="204.3" y="404.1" text-anchor="middle">80</text>
</g>
<text x="129.3" y="419" font-size="12" text-anchor="middle" fill="#000">Contact number per day of tracing</text>
<text transform="translate(10.6 314.2) rotate(-90)" font-size="11.9" text-anchor="middle" fill="#000">Density</text>
<text x="129.2" y="229.1" font-size="13.4" text-anchor="middle" fill="#000">Community settings (N=297)</text>
<text x="1.1" y="232" font-size="19" font-weight="bold" fill="#000">D</text>
</g>
<g id="panelE">
<clipPath id="cE"><rect x="265.2" y="239.6" width="171.5" height="149.6"/></clipPath>
<g clip-path="url(#cE)">
<path d="M273.58 382V246.05h1.96V382zM275.53 382V328.21h1.96V382zM277.49 382V338.05h1.96V382zM279.44 382V366.35h1.96V382zM281.4 382V370.4h1.96V382zM283.36 382V370.87h1.96V382zM285.31 382V376.52h1.96V382zM287.27 382V377.14h1.96V382zM289.22 382V380.04h1.96V382zM291.18 382V380.54h1.96V382zM295.09 382V381.41h1.96V382zM297.05 382V381.41h1.96V382zM300.96 382V381.12h1.96V382zM302.91 382V381.12h1.96V382zM310.73 382V381.41h1.96V382zM340.07 382V381.41h1.96V382zM412.43 382V381.41h1.96V382z" fill="#E78AC3" fill-opacity="0.75"/>
<g fill="#E78AC3">
<rect x="273.58" y="246.05" width="1.96" height="135.95"/>
<rect x="275.53" y="328.21" width="1.96" height="53.79"/>
<rect x="277.49" y="338.05" width="1.96" height="43.95"/>
<rect x="279.44" y="366.35" width="1.96" height="15.65"/>
<rect x="281.4" y="370.4" width="1.96" height="11.6"/>
<rect x="283.36" y="370.87" width="1.96" height="11.13"/>
<rect x="285.31" y="376.52" width="1.96" height="5.48"/>
<rect x="287.27" y="377.14" width="1.96" height="4.86"/>
<rect x="289.22" y="380.04" width="1.96" height="1.96"/>
<rect x="291.18" y="380.54" width="1.96" height="1.46"/>
<rect x="295.09" y="381.41" width="1.96" height="0.59"/>
<rect x="297.05" y="381.41" width="1.96" height="0.59"/>
<rect x="300.96" y="381.12" width="1.96" height="0.88"/>
<rect x="302.91" y="381.12" width="1.96" height="0.88"/>
<rect x="310.73" y="381.41" width="1.96" height="0.59"/>
<rect x="340.07" y="381.41" width="1.96" height="0.59"/>
<rect x="412.43" y="381.41" width="1.96" height="0.59"/>
</g>
<path d="M272.8 221.57 L272.87 236.97 L272.95 243.63 L273.03 250.53 L273.11 257.71 L273.19 264.42 L273.26 270.45 L273.34 275.8 L273.42 280.52 L273.5 284.7 L273.58 288.41 L273.66 291.72 L273.73 294.69 L273.81 297.36 L273.89 299.78 L273.97 301.99 L274.05 304 L274.13 305.86 L274.2 307.57 L274.28 309.16 L274.36 310.63 L274.44 312.01 L274.52 313.3 L274.59 314.52 L274.67 315.67 L274.75 316.75 L274.83 317.78 L274.91 318.76 L274.99 319.69 L275.06 320.59 L275.14 321.45 L275.22 322.27 L275.3 323.06 L275.38 323.82 L275.46 324.56 L275.53 325.28 L275.61 325.97 L275.69 326.64 L275.77 327.29 L275.85 327.93 L275.92 328.55 L276 329.15 L276.08 329.74 L276.16 330.32 L276.24 330.88 L276.32 331.44 L276.39 331.98 L276.47 332.51 L276.55 333.04 L276.63 333.55 L276.71 334.06 L276.78 334.55 L276.86 335.04 L276.94 335.53 L277.02 336 L277.1 336.47 L277.18 336.93 L277.25 337.39 L277.33 337.84 L277.41 338.29 L277.49 338.73 L277.57 339.16 L277.65 339.59 L277.72 340.02 L277.8 340.44 L277.88 340.85 L277.96 341.26 L278.04 341.67 L278.11 342.07 L278.19 342.47 L278.27 342.87 L278.35 343.26 L278.43 343.65 L278.51 344.03 L278.58 344.41 L278.66 344.79 L278.74 345.16 L278.82 345.53 L278.9 345.89 L278.98 346.26 L279.05 346.62 L279.13 346.97 L279.21 347.33 L279.29 347.68 L279.37 348.02 L279.44 348.37 L279.52 348.71 L279.6 349.05 L279.68 349.38 L279.76 349.72 L279.84 350.05 L279.91 350.37 L279.99 350.7 L280.07 351.02 L280.15 351.34 L280.23 351.65 L280.31 351.96 L280.38 352.27 L280.46 352.58 L280.54 352.89 L280.62 353.19 L280.7 353.49 L280.77 353.79 L280.85 354.08 L280.93 354.37 L281.01 354.66 L281.09 354.95 L281.17 355.23 L281.24 355.51 L281.32 355.79 L281.4 356.07 L281.48 356.34 L281.56 356.62 L281.63 356.89 L281.71 357.15 L281.79 357.42 L281.87 357.68 L281.95 357.94 L282.03 358.2 L282.1 358.45 L282.18 358.71 L282.26 358.96 L282.34 359.2 L282.42 359.45 L282.5 359.69 L282.57 359.94 L282.65 360.18 L282.73 360.41 L282.81 360.65 L282.89 360.88 L282.96 361.11 L283.04 361.34 L283.12 361.56 L283.2 361.79 L283.28 362.01 L283.36 362.23 L283.43 362.45 L283.51 362.66 L283.59 362.88 L283.67 363.09 L283.75 363.3 L283.83 363.5 L283.9 363.71 L283.98 363.91 L284.06 364.11 L284.14 364.31 L284.22 364.51 L284.29 364.71 L284.33 364.8 L284.82 365.97 L285.31 367.08 L285.8 368.11 L286.29 369.07 L286.78 369.98 L287.27 370.82 L287.76 371.61 L288.24 372.35 L288.73 373.04 L289.22 373.68 L289.71 374.28 L290.2 374.84 L290.69 375.36 L291.18 375.84 L291.67 376.29 L292.16 376.71 L292.64 377.09 L293.13 377.45 L293.62 377.79 L294.11 378.1 L294.6 378.39 L295.09 378.65 L295.58 378.9 L296.07 379.13 L296.56 379.35 L297.05 379.54 L297.53 379.73 L298.02 379.89 L298.51 380.05 L299 380.2 L299.49 380.33 L299.98 380.46 L300.47 380.57 L300.96 380.68 L301.45 380.78 L301.93 380.87 L302.42 380.95 L302.91 381.03 L303.4 381.1 L303.89 381.17 L304.38 381.23 L304.87 381.29 L305.36 381.34 L305.85 381.39 L306.33 381.44 L306.82 381.48 L307.31 381.52 L307.8 381.55 L308.29 381.59 L308.78 381.62 L309.27 381.65 L309.76 381.67 L310.25 381.7 L310.73 381.72 L311.22 381.74 L311.71 381.76 L312.2 381.78 L312.69 381.79 L313.18 381.81 L313.67 381.82 L314.16 381.84 L314.65 381.85 L315.13 381.86 L315.62 381.87 L316.11 381.88 L316.6 381.88 L317.09 381.89 L317.58 381.9 L318.07 381.91 L318.56 381.91 L319.05 381.92 L319.53 381.92 L320.02 381.93 L320.51 381.93 L321 381.94 L321.49 381.94 L321.98 381.94 L322.47 381.95 L322.96 381.95 L323.45 381.95 L323.93 381.96 L324.42 381.96 L324.91 381.96 L325.4 381.96 L325.89 381.97 L326.38 381.97 L326.87 381.97 L327.36 381.97 L327.85 381.97 L328.33 381.97 L328.82 381.97 L329.31 381.98 L329.8 381.98 L330.29 381.98 L330.78 381.98 L331.27 381.98 L331.76 381.98 L332.25 381.98 L332.73 381.98 L333.22 381.98 L333.71 381.99 L334.2 381.99 L334.69 381.99 L335.18 381.99 L335.67 381.99 L336.16 381.99 L336.65 381.99 L337.13 381.99 L337.62 381.99 L338.11 381.99 L338.6 381.99 L339.09 381.99 L339.58 381.99 L340.07 381.99 L340.56 381.99 L341.05 381.99 L341.53 381.99 L342.02 381.99 L342.51 381.99 L343 381.99 L343.49 381.99 L343.98 381.99 L344.47 381.99 L344.96 381.99 L345.45 382 L345.94 382 L346.42 382 L346.91 382 L347.4 382 L347.89 382 L348.38 382 L348.87 382 L349.36 382 L349.85 382 L350.34 382 L350.82 382 L351.31 382 L351.8 382 L352.29 382 L352.78 382 L353.27 382 L353.76 382 L354.25 382 L354.74 382 L355.22 382 L355.71 382 L356.2 382 L356.69 382 L357.18 382 L357.67 382 L358.16 382 L358.65 382 L359.14 382 L359.62 382 L360.11 382 L360.6 382 L361.09 382 L361.58 382 L362.07 382 L362.56 382 L363.05 382 L363.54 382 L364.02 382 L364.51 382 L365 382 L365.49 382 L365.98 382 L366.47 382 L366.96 382 L367.45 382 L367.94 382 L368.42 382 L368.91 382 L369.4 382 L369.89 382 L370.38 382 L370.87 382 L371.36 382 L371.85 382 L372.34 382 L372.82 382 L373.31 382 L373.8 382 L374.29 382 L374.78 382 L375.27 382 L375.76 382 L376.25 382 L376.74 382 L377.22 382 L377.71 382 L378.2 382 L378.69 382 L379.18 382 L379.67 382 L380.16 382 L380.65 382 L381.14 382 L381.62 382 L382.11 382 L382.6 382 L383.09 382 L383.58 382 L384.07 382 L384.56 382 L385.05 382 L385.54 382 L386.02 382 L386.51 382 L387 382 L387.49 382 L387.98 382 L388.47 382 L388.96 382 L389.45 382 L389.94 382 L390.42 382 L390.91 382 L391.4 382 L391.89 382 L392.38 382 L392.87 382 L393.36 382 L393.85 382 L394.34 382 L394.83 382 L395.31 382 L395.8 382 L396.29 382 L396.78 382 L397.27 382 L397.76 382 L398.25 382 L398.74 382 L399.23 382 L399.71 382 L400.2 382 L400.69 382 L401.18 382 L401.67 382 L402.16 382 L402.65 382 L403.14 382 L403.63 382 L404.11 382 L404.6 382 L405.09 382 L405.58 382 L406.07 382 L406.56 382 L407.05 382 L407.54 382 L408.03 382 L408.51 382 L409 382 L409.49 382 L409.98 382 L410.47 382 L410.96 382 L411.45 382 L411.94 382 L412.43 382 L412.91 382 L413.4 382 L413.89 382 L414.38 382 L414.87 382 L415.36 382 L415.85 382 L416.34 382 L416.83 382 L417.31 382 L417.8 382 L418.29 382 L418.78 382 L419.27 382 L419.76 382 L420.25 382 L420.74 382 L421.23 382 L421.71 382 L422.2 382 L422.69 382 L423.18 382 L423.67 382 L424.16 382 L424.65 382 L425.14 382 L425.63 382 L426.11 382 L426.6 382 L427.09 382 L427.58 382 L428.07 382 L428.56 382 L429.05 382" fill="none" stroke="#000" stroke-width="1.6" stroke-linejoin="round"/>
<line x1="279.84" y1="389.2" x2="279.84" y2="239.6" stroke="#000" stroke-width="1.6" stroke-dasharray="5.6 5.85"/>
</g>
<path d="M265.2 239.6V388.8H436.7" fill="none" stroke="#000" stroke-width="1.6" stroke-linejoin="round"/>
<path d="M264.5 382h-3.3M264.5 352.7h-3.3M264.5 323.4h-3.3M264.5 294.1h-3.3M264.5 264.8h-3.3M272.6 389.5v3.3M311.71 389.5v3.3M350.82 389.5v3.3M389.94 389.5v3.3M429.05 389.5v3.3" stroke="#333" stroke-width="1.6" fill="none"/>
<g font-size="12.1" fill="#4D4D4D">
<text x="258.2" y="386.7" text-anchor="end">0.0</text>
<text x="258.2" y="357.4" text-anchor="end">0.1</text>
<text x="258.2" y="328.1" text-anchor="end">0.2</text>
<text x="258.2" y="298.8" text-anchor="end">0.3</text>
<text x="258.2" y="269.5" text-anchor="end">0.4</text>
<text x="272.9" y="404.1" text-anchor="middle">0</text>
<text x="312.01" y="404.1" text-anchor="middle">20</text>
<text x="351.12" y="404.1" text-anchor="middle">40</text>
<text x="390.24" y="404.1" text-anchor="middle">60</text>
<text x="429.35" y="404.1" text-anchor="middle">80</text>
</g>
<text x="351.15" y="419" font-size="12" text-anchor="middle" fill="#000">Contact number per day of tracing</text>
<text transform="translate(235 314.2) rotate(-90)" font-size="11.9" text-anchor="middle" fill="#000">Density</text>
<text x="351.05" y="229.1" font-size="13.4" text-anchor="middle" fill="#000">Other (N=314)</text>
<text x="226" y="232" font-size="19" font-weight="bold" fill="#000">E</text>
</g>
</svg>
</body></html>
